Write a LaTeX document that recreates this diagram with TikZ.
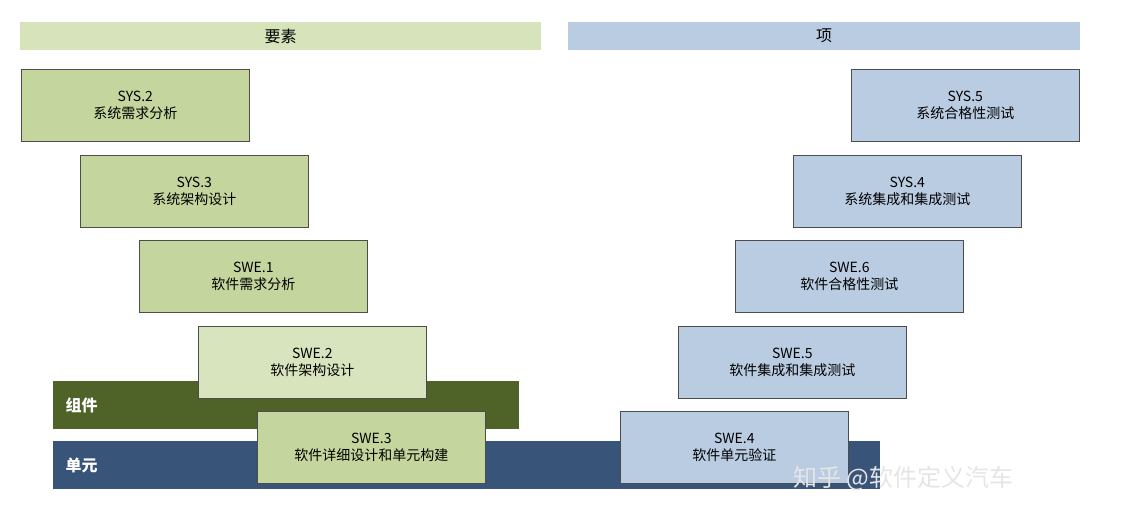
\documentclass[tikz,border=0pt]{standalone}
\usepackage{fontspec}
\setmainfont{Noto Sans CJK SC}
\begin{document}
\begin{tikzpicture}[x=1pt,y=-1pt,
  bx/.style={draw=black!70,line width=0.6pt,minimum width=228pt,minimum height=72pt,anchor=north west,align=center,font=\fontsize{14}{17}\selectfont,inner sep=0pt},
  gbox/.style={bx,fill=grn},
  bbox/.style={bx,fill=blu},
  hdr/.style={anchor=north west,minimum height=28pt,inner sep=0pt,font=\fontsize{16}{18}\selectfont}]
\definecolor{grn}{RGB}{196,214,157}
\definecolor{grnl}{RGB}{216,228,190}
\definecolor{blu}{RGB}{186,204,226}
\definecolor{olive}{RGB}{79,98,40}
\definecolor{navy}{RGB}{56,84,120}
\useasboundingbox (0,0) rectangle (1131,524);
\node[hdr,fill=grnl!90!grn,minimum width=521pt] (h1) at (20,22) {要素};
\node[hdr,fill=blu,minimum width=512pt] (h2) at (568,22) {项};
\node[anchor=north west,fill=olive,minimum width=466pt,minimum height=48pt,inner sep=0pt] (zj) at (53,381) {};
\node[anchor=west,text=white,font=\bfseries\fontsize{16}{18}\selectfont] (zjt) at (62,405) {组件};
\node[anchor=north west,fill=navy,minimum width=827pt,minimum height=48pt,inner sep=0pt] (dy) at (53,441) {};
\node[anchor=west,text=white,font=\bfseries\fontsize{16}{18}\selectfont] (dyt) at (62,465) {单元};
\node[gbox] (s2) at (21,69) {SYS.2\\系统需求分析};
\node[gbox] (s3) at (80,155) {SYS.3\\系统架构设计};
\node[gbox] (w1) at (139,240) {SWE.1\\软件需求分析};
\node[bx,fill=grnl] (w2) at (198,326) {SWE.2\\软件架构设计};
\node[gbox] (w3) at (257,411) {SWE.3\\软件详细设计和单元构建};
\node[bbox] (s5) at (851,69) {SYS.5\\系统合格性测试};
\node[bbox] (s4) at (793,155) {SYS.4\\系统集成和集成测试};
\node[bbox] (w6) at (735,240) {SWE.6\\软件合格性测试};
\node[bbox] (w5) at (678,326) {SWE.5\\软件集成和集成测试};
\node[bbox] (w4) at (620,411) {SWE.4\\软件单元验证};
\node[anchor=west,text=black!10,font=\fontsize{24}{28}\selectfont] (wm) at (790,478) {知乎 @软件定义汽车};
\end{tikzpicture}
\end{document}
